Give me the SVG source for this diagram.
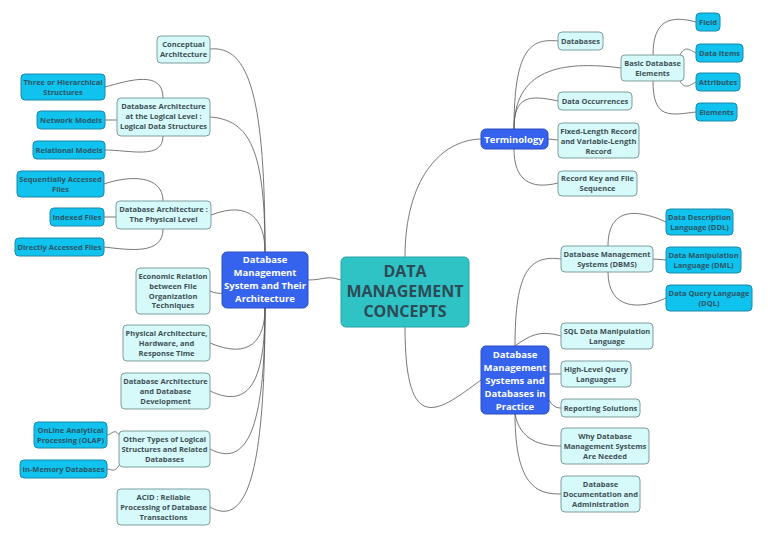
<svg xmlns="http://www.w3.org/2000/svg" width="768" height="540" viewBox="0 0 768 540">
<style>
text{font-family:"Open Sans","Noto Sans",sans-serif;font-weight:bold;text-anchor:middle}
.l rect{fill:#d6fafa;stroke:#7f9c9c;stroke-width:1}
.l text{font-size:7.5px;fill:#3d4f55}
.k rect{fill:#10c3ee;stroke:#1a88aa;stroke-width:1}
.k text{font-size:7.5px;fill:#2b5566}
.m rect{fill:#3563ee;stroke:#2a4cc0}
.m text{font-size:9.5px;fill:#ffffff}
#conn path{fill:none;stroke:#555;stroke-width:0.8}
</style>
<rect width="768" height="540" fill="#fff"/>
<g id="conn">
<path d="M308 280 C325 280 325 275 341 280"/>
<path d="M405 257 C405 180 440 140 481 139"/>
<path d="M405 327 C405 440 440 410 481 380"/>
<path d="M265 252 C265 100 250 45 210 49"/>
<path d="M265 252 C265 150 250 120 210 117"/>
<path d="M265 252 C265 220 250 200 211 215"/>
<path d="M265 280 C240 280 230 300 210 291"/>
<path d="M265 308 C265 340 250 360 210 343"/>
<path d="M265 308 C265 380 250 410 210 391"/>
<path d="M265 308 C265 420 250 470 210 449"/>
<path d="M265 308 C265 460 250 530 210 507"/>
<path d="M163 98 C163 70 130 80 105 87"/>
<path d="M117 120 L105 120"/>
<path d="M163 136 C163 160 130 150 105 150"/>
<path d="M163 201 C163 175 130 175 104 184"/>
<path d="M116 217 L104 217"/>
<path d="M163 229 C163 255 130 250 104 247"/>
<path d="M122 440 C115 425 112 435 107 435"/>
<path d="M122 460 C115 475 112 469 107 469"/>
<path d="M514 129 C514 50 530 38 558 41"/>
<path d="M514 129 C514 70 560 60 621 68"/>
<path d="M514 129 C514 95 530 95 558 101"/>
<path d="M548 139 L558 140"/>
<path d="M514 149 C514 180 530 190 558 183"/>
<path d="M653 55 C653 20 670 15 696 22"/>
<path d="M680 55 C685 45 690 50 696 53"/>
<path d="M680 81 C685 90 690 85 696 82"/>
<path d="M653 81 C653 120 670 115 696 112"/>
<path d="M515 346 C515 270 530 255 561 259"/>
<path d="M515 346 C530 335 540 330 561 336"/>
<path d="M549 374 L561 374"/>
<path d="M549 400 C552 405 555 408 561 408"/>
<path d="M515 414 C520 440 540 446 561 446"/>
<path d="M515 414 C515 490 540 494 561 494"/>
<path d="M608 246 C608 205 640 210 666 222"/>
<path d="M653 259 L666 260"/>
<path d="M608 272 C608 310 640 310 666 298"/>
</g>
<g id="center"><rect x="341" y="257" width="128" height="70" rx="5" fill="#2fc3c6" stroke="#27a3a6"/>
<text font-size="16" fill="#2d4a55"><tspan x="405" y="277">DATA</tspan><tspan x="405" y="297">MANAGEMENT</tspan><tspan x="405" y="317">CONCEPTS</tspan></text></g>
<g id="dbms-arch" class="m"><rect x="222" y="252" width="86" height="56" rx="5"/><text><tspan x="265" y="263">Database</tspan><tspan x="265" y="276">Management</tspan><tspan x="265" y="289">System and Their</tspan><tspan x="265" y="302">Architecture</tspan></text></g>
<g id="terminology" class="m"><rect x="481" y="129" width="67" height="20" rx="5"/><text x="514" y="143">Terminology</text></g>
<g id="practice" class="m"><rect x="481" y="346" width="68" height="68" rx="5"/><text><tspan x="515" y="358">Database</tspan><tspan x="515" y="371">Management</tspan><tspan x="515" y="384">Systems and</tspan><tspan x="515" y="397">Databases in</tspan><tspan x="515" y="410">Practice</tspan></text></g>
<g id="conceptual" class="l"><rect x="157" y="36" width="53" height="27" rx="4"/><text><tspan x="183.5" y="47">Conceptual</tspan><tspan x="183.5" y="57">Architecture</tspan></text></g>
<g id="logical" class="l"><rect x="117" y="98" width="93" height="38" rx="4"/><text><tspan x="163.5" y="109">Database Architecture</tspan><tspan x="163.5" y="119">at the Logical Level :</tspan><tspan x="163.5" y="129">Logical Data Structures</tspan></text></g>
<g id="physical" class="l"><rect x="116" y="201" width="95" height="28" rx="4"/><text><tspan x="163.5" y="212">Database Architecture :</tspan><tspan x="163.5" y="222">The Physical Level</tspan></text></g>
<g id="economic" class="l"><rect x="136" y="268" width="74" height="46" rx="4"/><text><tspan x="173" y="279">Economic Relation</tspan><tspan x="173" y="289">between File</tspan><tspan x="173" y="299">Organization</tspan><tspan x="173" y="308">Techniques</tspan></text></g>
<g id="phys-arch" class="l"><rect x="123" y="325" width="87" height="36" rx="4"/><text><tspan x="166.5" y="336">Physical Architecture,</tspan><tspan x="166.5" y="346">Hardware, and</tspan><tspan x="166.5" y="356">Response Time</tspan></text></g>
<g id="arch-dev" class="l"><rect x="121" y="373" width="89" height="36" rx="4"/><text><tspan x="165.5" y="384">Database Architecture</tspan><tspan x="165.5" y="394">and Database</tspan><tspan x="165.5" y="404">Development</tspan></text></g>
<g id="other" class="l"><rect x="119" y="431" width="91" height="36" rx="4"/><text><tspan x="164.5" y="442">Other Types of Logical</tspan><tspan x="164.5" y="452">Structures and Related</tspan><tspan x="164.5" y="462">Databases</tspan></text></g>
<g id="acid" class="l"><rect x="117" y="489" width="93" height="36" rx="4"/><text><tspan x="163.5" y="500">ACID : Reliable</tspan><tspan x="163.5" y="510">Processing of Database</tspan><tspan x="163.5" y="520">Transactions</tspan></text></g>
<g id="three" class="k"><rect x="21" y="74" width="84" height="26" rx="4"/><text><tspan x="63" y="85">Three or Hierarchical</tspan><tspan x="63" y="95">Structures</tspan></text></g>
<g id="network" class="k"><rect x="37" y="111" width="68" height="18" rx="4"/><text x="71" y="123">Network Models</text></g>
<g id="relational" class="k"><rect x="33" y="141" width="72" height="18" rx="4"/><text x="69" y="153">Relational Models</text></g>
<g id="sequential" class="k"><rect x="17" y="171" width="87" height="26" rx="4"/><text><tspan x="60.5" y="182">Sequentially Accessed</tspan><tspan x="60.5" y="192">Files</tspan></text></g>
<g id="indexed" class="k"><rect x="50" y="208" width="54" height="18" rx="4"/><text x="77" y="220">Indexed Files</text></g>
<g id="direct" class="k"><rect x="15" y="238" width="89" height="18" rx="4"/><text x="59.5" y="250">Directly Accessed Files</text></g>
<g id="olap" class="k"><rect x="34" y="422" width="73" height="26" rx="4"/><text><tspan x="70.5" y="433">OnLine Analytical</tspan><tspan x="70.5" y="443">Processing (OLAP)</tspan></text></g>
<g id="inmem" class="k"><rect x="20" y="460" width="87" height="18" rx="4"/><text x="63.5" y="472">In-Memory Databases</text></g>
<g id="databases" class="l"><rect x="558" y="32" width="45" height="18" rx="4"/><text x="580.5" y="44">Databases</text></g>
<g id="basic" class="l"><rect x="621" y="55" width="63" height="26" rx="4"/><text><tspan x="652.5" y="66">Basic Database</tspan><tspan x="652.5" y="76">Elements</tspan></text></g>
<g id="occ" class="l"><rect x="558" y="92" width="74" height="18" rx="4"/><text x="595" y="104">Data Occurrences</text></g>
<g id="fixed" class="l"><rect x="558" y="123" width="81" height="35" rx="4"/><text><tspan x="598.5" y="134">Fixed-Length Record</tspan><tspan x="598.5" y="144">and Variable-Length</tspan><tspan x="598.5" y="154">Record</tspan></text></g>
<g id="key" class="l"><rect x="558" y="171" width="79" height="25" rx="4"/><text><tspan x="597.5" y="181">Record Key and File</tspan><tspan x="597.5" y="191">Sequence</tspan></text></g>
<g id="field" class="k"><rect x="696" y="13" width="24" height="18" rx="4"/><text x="708" y="25">Field</text></g>
<g id="items" class="k"><rect x="696" y="44" width="47" height="18" rx="4"/><text x="719.5" y="56">Data Items</text></g>
<g id="attr" class="k"><rect x="696" y="73" width="44" height="18" rx="4"/><text x="718" y="85">Attributes</text></g>
<g id="elem" class="k"><rect x="696" y="103" width="41" height="18" rx="4"/><text x="716.5" y="115">Elements</text></g>
<g id="dbms" class="l"><rect x="561" y="246" width="92" height="26" rx="4"/><text><tspan x="607" y="257">Database Management</tspan><tspan x="607" y="267">Systems (DBMS)</tspan></text></g>
<g id="ddl" class="k"><rect x="666" y="209" width="67" height="26" rx="4"/><text><tspan x="699.5" y="220">Data Description</tspan><tspan x="699.5" y="230">Language (DDL)</tspan></text></g>
<g id="dml" class="k"><rect x="666" y="247" width="75" height="26" rx="4"/><text><tspan x="703.5" y="258">Data Manipulation</tspan><tspan x="703.5" y="268">Language (DML)</tspan></text></g>
<g id="dql" class="k"><rect x="666" y="285" width="86" height="26" rx="4"/><text><tspan x="709" y="296">Data Query Language</tspan><tspan x="709" y="306">(DQL)</tspan></text></g>
<g id="sql" class="l"><rect x="561" y="323" width="92" height="26" rx="4"/><text><tspan x="607" y="334">SQL Data Manipulation</tspan><tspan x="607" y="344">Language</tspan></text></g>
<g id="hlql" class="l"><rect x="561" y="361" width="70" height="26" rx="4"/><text><tspan x="596" y="372">High-Level Query</tspan><tspan x="596" y="382">Languages</tspan></text></g>
<g id="reporting" class="l"><rect x="561" y="399" width="79" height="18" rx="4"/><text x="600.5" y="411">Reporting Solutions</text></g>
<g id="why" class="l"><rect x="561" y="428" width="88" height="36" rx="4"/><text><tspan x="605" y="439">Why Database</tspan><tspan x="605" y="449">Management Systems</tspan><tspan x="605" y="459">Are Needed</tspan></text></g>
<g id="doc" class="l"><rect x="561" y="476" width="79" height="36" rx="4"/><text><tspan x="600.5" y="487">Database</tspan><tspan x="600.5" y="497">Documentation and</tspan><tspan x="600.5" y="507">Administration</tspan></text></g>
</svg>
